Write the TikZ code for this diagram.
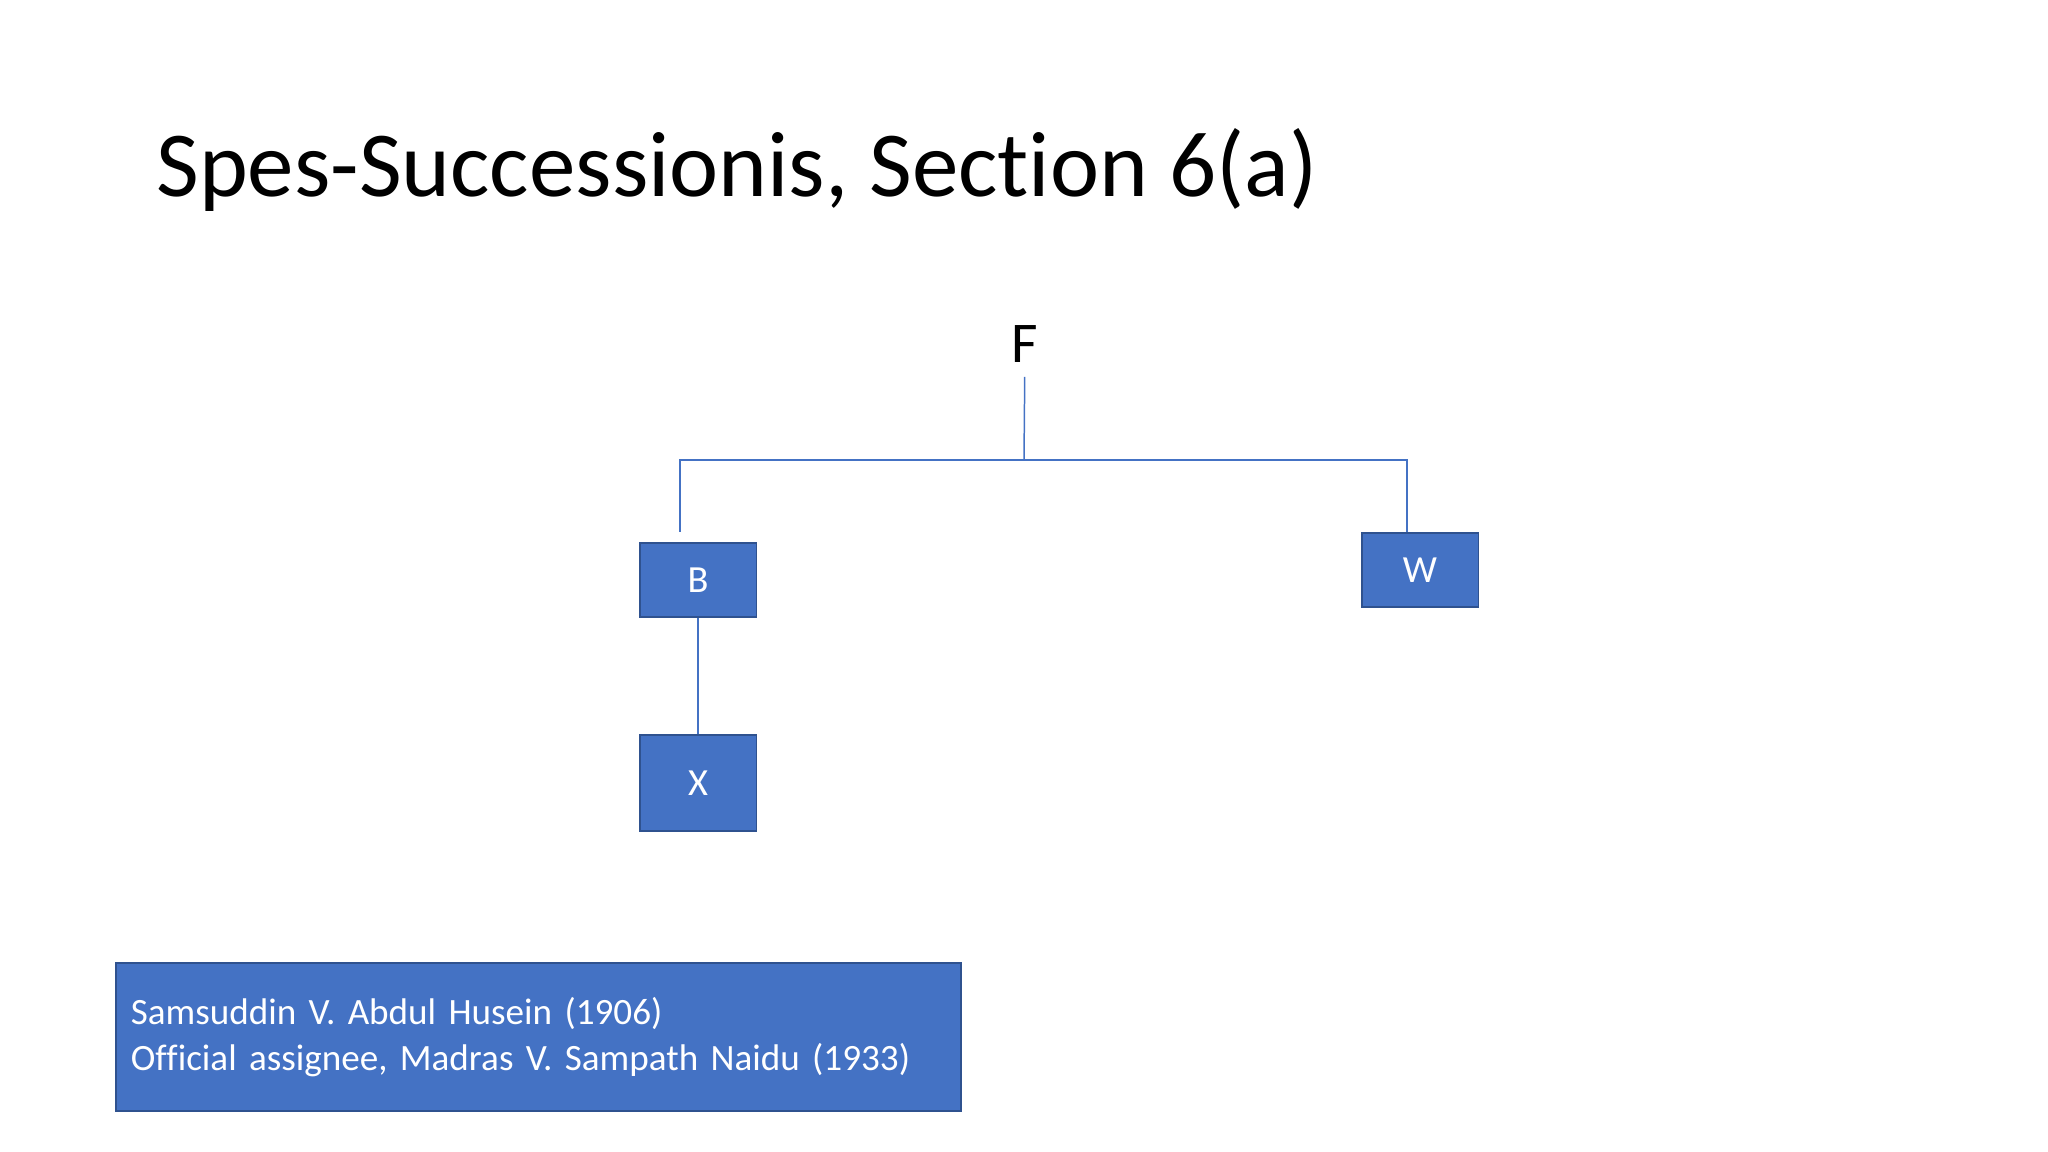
\documentclass[tikz,border=0pt]{standalone}
\usepackage{fontspec}
\setmainfont{Carlito}[Ligatures=NoCommon]
\usetikzlibrary{calc,positioning}

\definecolor{boxblue}{HTML}{4472C4}
\definecolor{edgeblue}{HTML}{2F528F}

\begin{document}
\frenchspacing
\begin{tikzpicture}[x=0.46875pt, y=-0.46875pt,
    person/.style={draw=edgeblue, fill=boxblue, line width=0.9pt, text=white,
      font=\fontsize{18}{21}\selectfont, minimum width=54.8pt, minimum height=34.5pt},
    link/.style={draw=boxblue, line width=0.7pt}]
  \useasboundingbox (0,0) rectangle (2048,1152);

  \node[anchor=base west, inner sep=0pt, font=\fontsize{43.6}{52}\selectfont] (title) at (156,197) {Spes-Successionis, Section 6(a)};

  \node[font=\fontsize{27}{32}\selectfont, inner xsep=3pt, inner ysep=6.5pt] (F) at (1025,344) {F};
  \node[person] (B) at (698,580) {B};
  \node[person] (W) at (1420,570) {W};
  \node[person, minimum height=45pt] (X) at (698,783) {X};

  \coordinate (bar) at (1024,460);
  \draw[link] (F) -- (bar);
  \draw[link] (bar) -| ([xshift=-8.5pt, yshift=4.7pt]B.north);
  \draw[link] (bar) -| ([xshift=-6pt]W.north);
  \draw[link] (B) -- (X);

  \node[draw=edgeblue, fill=boxblue, line width=0.9pt, text=white, anchor=north west,
    minimum width=396pt, minimum height=69.4pt, text width=382pt, align=left,
    inner xsep=7pt, font=\fontsize{17.4}{21.4}\selectfont] (cases) at (115,962)
    {Samsuddin V. Abdul Husein (1906)\\Official assignee, Madras V. Sampath Naidu (1933)};
\end{tikzpicture}
\end{document}
